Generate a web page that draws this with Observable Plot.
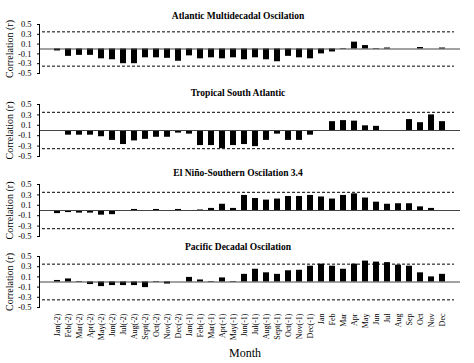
<!DOCTYPE html>
<html>
<head>
<meta charset="utf-8">
<script src="https://cdn.jsdelivr.net/npm/d3@7"></script>
<script src="https://cdn.jsdelivr.net/npm/@observablehq/plot@0.6"></script>
<style>
  html, body { margin: 0; padding: 0; background: #fff; }
  #chart { position: relative; width: 474px; height: 363px; overflow: hidden; }
  #chart svg { position: absolute; left: 0; top: 0; }
</style>
</head>
<body>
<div id="chart"></div>
<script>
const months = ["Jan(-2)","Feb(-2)","Mar(-2)","Apr(-2)","May(-2)","Jun(-2)","Jul(-2)","Aug(-2)","Sept(-2)","Oct(-2)","Nov(-2)","Dec(-2)",
  "Jan(-1)","Feb(-1)","Mar(-1)","Apr(-1)","May(-1)","Jun(-1)","Jul(-1)","Aug(-1)","Sept(-1)","Oct(-1)","Nov(-1)","Dec(-1)",
  "Jan","Feb","Mar","Apr","May","Jun","Jul","Aug","Sep","Oct","Nov","Dec"];

const titles = ["Atlantic Multidecadal Oscilation", "Tropical South Atlantic", "El Niño-Southern Oscilation 3.4", "Pacific Decadal Oscilation"];

const amo = [-0.04,-0.15,-0.13,-0.13,-0.2,-0.22,-0.3,-0.3,-0.18,-0.18,-0.19,-0.25,-0.14,-0.2,-0.18,-0.2,-0.18,-0.22,-0.18,-0.22,-0.26,-0.15,-0.18,-0.2,-0.1,-0.06,-0.01,0.14,0.07,-0.01,0.02,0,0,0.03,0,0.02];
const tsa = [0,-0.09,-0.09,-0.09,-0.12,-0.19,-0.27,-0.2,-0.17,-0.13,-0.13,-0.05,-0.07,-0.29,-0.29,-0.35,-0.29,-0.27,-0.31,-0.19,-0.07,-0.19,-0.19,-0.09,-0.01,0.17,0.19,0.18,0.09,0.08,0,-0.01,0.21,0.15,0.3,0.17];
const enso = [-0.06,-0.04,-0.05,-0.05,-0.09,-0.08,0,0.02,0,0.02,0,0.02,0,0.01,0.04,0.12,0.04,0.29,0.23,0.2,0.22,0.27,0.27,0.29,0.26,0.22,0.29,0.32,0.24,0.16,0.12,0.13,0.13,0.07,0.04,0];
const pdo = [0.03,0.06,0.01,-0.05,-0.09,-0.07,-0.07,-0.07,-0.11,0.01,-0.04,0,0.09,0.04,0.01,0.08,0.01,0.15,0.25,0.18,0.15,0.22,0.23,0.31,0.35,0.31,0.25,0.35,0.41,0.39,0.38,0.33,0.31,0.18,0.1,0.15];

const yTicks = [-0.5,-0.3,-0.1,0.1,0.3,0.5];
const thresholds = [0.35,-0.35];
const yLabel = "Correlation (r)";
const xLabel = "Month";

const W = 474, H = 363;
const font = "'Liberation Serif', 'Times New Roman', serif";
const layout = [
  {top: 24, bottom: 73, titleDy: -9},
  {top: 104, bottom: 156, titleDy: -12},
  {top: 184, bottom: 236, titleDy: -12},
  {top: 256, bottom: 307, titleDy: -10}
];
const series = [amo, tsa, enso, pdo];

const chart = document.getElementById("chart");
series.forEach((vals, k) => {
  const L = layout[k];
  const data = months.map((m, i) => ({month: m, r: vals[i]}));
  const last = k === series.length - 1;
  const marks = [
    Plot.barY(data, {x: "month", y: "r", fill: "#000"}),
    Plot.ruleY([0], {stroke: "#444", strokeWidth: 1}),
    Plot.ruleY(thresholds, {stroke: "#000", strokeWidth: 1, strokeDasharray: "3,2", insetLeft: 3, insetRight: 6}),
    Plot.frame({anchor: "left", stroke: "#000"}),
    Plot.axisY({ticks: yTicks, tickFormat: d => d.toFixed(1), tickSize: 2, tickPadding: 6,
      fontSize: 8.5, label: null}),
    Plot.text([yLabel], {frameAnchor: "left", dx: -29.5, rotate: -90, lineAnchor: "middle",
      textAnchor: "middle", fontSize: 10, fill: "#000"}),
    Plot.text([titles[k]], {frameAnchor: "top", dy: L.titleDy, dx: -12, lineAnchor: "middle",
      fontWeight: "bold", fontSize: 9.5, fill: "#000"})
  ];
  if (last) {
    marks.push(Plot.axisX({tickRotate: -90, tickSize: 0, tickPadding: 6, fontSize: 8, label: null}));
    marks.push(Plot.text([xLabel], {frameAnchor: "bottom", dy: 49, dx: -5, lineAnchor: "bottom", fontSize: 12, fill: "#000"}));
  }
  const svg = Plot.plot({
    width: W, height: H,
    marginTop: L.top, marginBottom: H - L.bottom, marginLeft: 39, marginRight: 14,
    style: {fontFamily: font, fontSize: "10px", color: "#000", background: "transparent", overflow: "visible"},
    x: {domain: months, paddingInner: 0.5, paddingOuter: 0.25, axis: null},
    y: {domain: [-0.5, 0.5], axis: null},
    marks
  });
  chart.appendChild(svg);
});
</script>
</body>
</html>
